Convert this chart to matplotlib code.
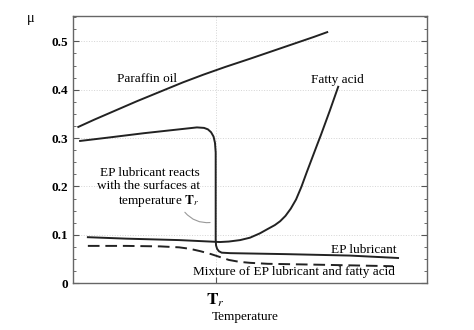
import matplotlib
matplotlib.use("Agg")
import matplotlib.pyplot as plt
from matplotlib.ticker import MultipleLocator

plt.rcParams['font.family'] = ['Liberation Serif', 'DejaVu Serif']
plt.rcParams['mathtext.fontset'] = 'stix'

# friction coefficient vs temperature (temperature scaled 0..1, Tr at 0.40)
t_r = 0.403

paraffin_x = [0.015, 0.06, 0.12, 0.18, 0.25, 0.31, 0.368, 0.43, 0.50, 0.556, 0.62, 0.68, 0.718]
paraffin_y = [0.323, 0.338, 0.357, 0.376, 0.397, 0.415, 0.431, 0.447, 0.464, 0.478, 0.494, 0.509, 0.519]

ep_x = [0.02, 0.10, 0.20, 0.30, 0.35, 0.37, 0.381, 0.390, 0.397, 0.401, 0.403, 0.403,
        0.404, 0.407, 0.412, 0.42, 0.444, 0.60, 0.782, 0.918]
ep_y = [0.294, 0.301, 0.310, 0.318, 0.322, 0.321, 0.318, 0.312, 0.303, 0.290, 0.27, 0.09,
        0.078, 0.071, 0.066, 0.063, 0.062, 0.060, 0.057, 0.052]

fatty_x = [0.042, 0.15, 0.30, 0.415, 0.44, 0.472, 0.50, 0.528, 0.55, 0.57, 0.585, 0.60,
           0.615, 0.63, 0.645, 0.66, 0.675, 0.69, 0.70, 0.725, 0.749]
fatty_y = [0.095, 0.092, 0.089, 0.085, 0.086, 0.089, 0.094, 0.103, 0.112, 0.120, 0.128, 0.139,
           0.154, 0.173, 0.199, 0.229, 0.258, 0.287, 0.306, 0.356, 0.406]

mix_x = [0.042, 0.15, 0.246, 0.30, 0.33, 0.36, 0.39, 0.415, 0.44, 0.47, 0.50, 0.55, 0.70, 0.904]
mix_y = [0.077, 0.077, 0.076, 0.074, 0.071, 0.066, 0.060, 0.054, 0.048, 0.044, 0.042, 0.040, 0.038, 0.035]

fig = plt.figure(figsize=(4.74, 3.30), dpi=100)
ax = fig.add_axes([0.154, 0.142, 0.747, 0.809])

lw = 1.4
ax.plot(paraffin_x, paraffin_y, color='#222222', lw=lw)
ax.plot(ep_x, ep_y, color='#222222', lw=lw)
ax.plot(fatty_x, fatty_y, color='#222222', lw=lw)
ax.plot(mix_x, mix_y, color='#222222', lw=lw, ls=(0, (6, 3)))

ax.set_xlim(0, 1)
ax.set_ylim(0, 0.552)

ax.set_yticks([0, 0.1, 0.2, 0.3, 0.4, 0.5])
ax.set_yticklabels(['0', '0.1', '0.2', '0.3', '0.4', '0.5'], fontweight='bold', fontsize=9.5)
ax.yaxis.set_minor_locator(MultipleLocator(0.025))
ax.set_xticks([t_r])
ax.set_xticklabels([r'$\mathbf{T}_{r}$'], fontsize=12.5)
ax.tick_params(axis='y', which='both', direction='in', right=True, color='#555555')
ax.tick_params(axis='y', which='major', length=4)
ax.tick_params(axis='y', which='minor', length=2)
ax.tick_params(axis='x', direction='in', length=4, pad=6, color='#555555')

ax.grid(True, which='major', color='#d4d4d4', lw=0.7, ls=':')
for s in ax.spines.values():
    s.set_color('#666666')
    s.set_linewidth(1.0)

fs = 9.5
ax.text(0.21, 0.422, 'Paraffin oil', fontsize=fs, ha='center', va='center')
ax.text(0.747, 0.42, 'Fatty acid', fontsize=fs, ha='center', va='center')
ax.text(0.913, 0.068, 'EP lubricant', fontsize=fs, ha='right', va='center')
ax.text(0.91, 0.023, 'Mixture of EP lubricant and fatty acid', fontsize=fs,
        ha='right', va='center')
ax.text(0.358, 0.196, 'EP lubricant reacts\nwith the surfaces at\ntemperature $\\mathbf{T}_{r}$',
        fontsize=fs, ha='right', va='center', linespacing=1.1)
ax.annotate('', xy=(0.395, 0.126), xytext=(0.311, 0.151),
            arrowprops=dict(arrowstyle='-', color='#999999', lw=0.8,
                            connectionstyle='arc3,rad=0.3'))

fig.text(0.065, 0.945, 'μ', fontsize=10.5, ha='center', va='center')
fig.text(0.517, 0.04, 'Temperature', fontsize=9.5, ha='center', va='center')

fig.savefig('out.png', dpi=100)
